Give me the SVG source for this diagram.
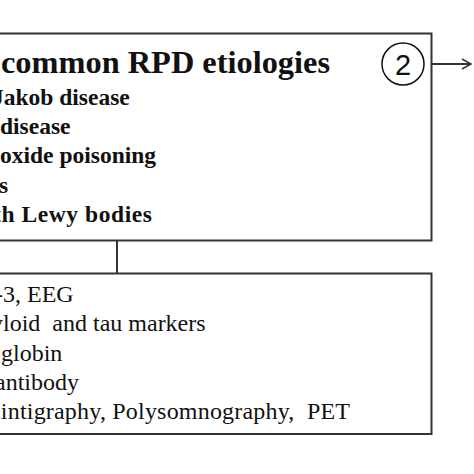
<svg xmlns="http://www.w3.org/2000/svg" width="474" height="474" viewBox="0 0 474 474">
<style>
.box{fill:#fff;stroke:#333;stroke-width:2}
.conn{stroke:#333;stroke-width:2;fill:none}
.title{font-family:"Liberation Serif","Times New Roman",serif;font-weight:bold;font-size:31px;fill:#111}
.item{font-family:"Liberation Serif","Times New Roman",serif;font-weight:bold;font-size:23.5px;fill:#111}
.reg{font-family:"Liberation Serif","Times New Roman",serif;font-size:24px;fill:#111}
.num{font-family:"Liberation Sans",Arial,sans-serif;font-size:29px;fill:#111}
</style>
<defs>
<marker id="open" markerWidth="12" markerHeight="12" refX="10" refY="6" orient="auto" markerUnits="userSpaceOnUse">
<path d="M1,1 L10,6 L1,11" fill="none" stroke="#333" stroke-width="1.5"/>
</marker>
</defs>
<rect width="474" height="474" fill="#fff"/>
<g id="connectors">
<line class="conn" x1="117" y1="240.5" x2="117" y2="273.5"/>
<line class="conn" x1="432" y1="64" x2="471" y2="64" stroke-width="1.5" marker-end="url(#open)"/>
</g>
<g id="node-etiologies">
<rect class="box" x="-10" y="33.5" width="441.5" height="207"/>
<text class="title" x="1" y="73" textLength="329" lengthAdjust="spacingAndGlyphs">common RPD etiologies</text>
<text class="item" x="-8" y="105">Jakob disease</text>
<text class="item" x="0" y="134.3">disease</text>
<text class="item" x="0" y="163.4">oxide poisoning</text>
<text class="item" x="-1" y="192.6">s</text>
<text class="item" x="-7" y="221.8" textLength="159" lengthAdjust="spacing">th Lewy bodies</text>
<g id="badge-2">
<circle cx="403" cy="64" r="21" fill="#fff" stroke="#111" stroke-width="1.5"/>
<text class="num" x="403" y="74.5" text-anchor="middle">2</text>
</g>
</g>
<g id="node-tests">
<rect class="box" x="-10" y="273.5" width="441.5" height="160.5"/>
<text class="reg" x="-5" y="301.5">-3, EEG</text>
<text class="reg" x="-9" y="331" xml:space="preserve">yloid  and tau markers</text>
<text class="reg" x="1" y="360.5">globin</text>
<text class="reg" x="-5" y="390">antibody</text>
<text class="reg" x="-10" y="418.5" xml:space="preserve" textLength="360" lengthAdjust="spacing">cintigraphy, Polysomnography,  PET</text>
</g>
</svg>
